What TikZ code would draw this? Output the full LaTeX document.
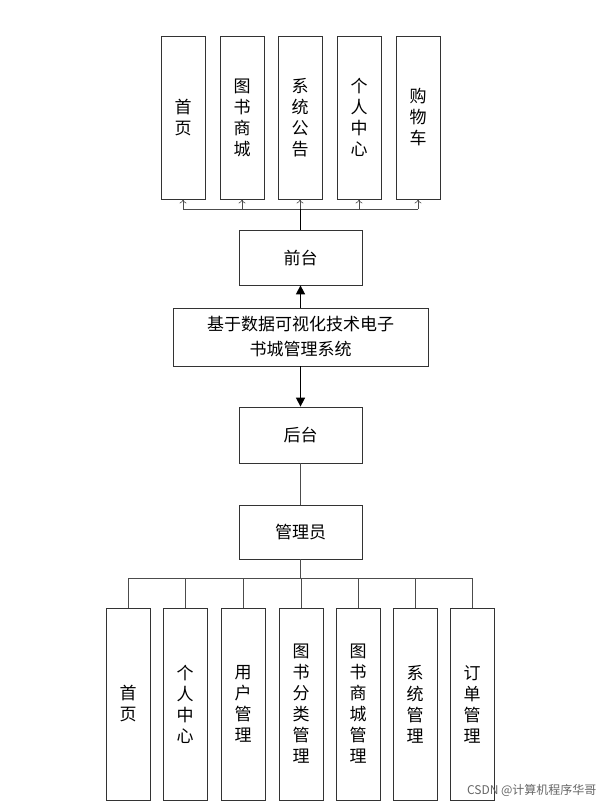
\documentclass[tikz,border=0pt]{standalone}
\usepackage{fontspec}
\setmainfont{Noto Sans CJK SC}
\usetikzlibrary{arrows.meta}
\begin{document}
\begin{tikzpicture}[x=1pt,y=-1pt,
  bx/.style={draw=black!80,line width=0.8pt,fill=white,font=\fontsize{17}{21}\selectfont,align=center,inner sep=0pt},
  thin/.style={draw=black!70,line width=0.6pt},
  tarr/.style={thin,-{To[length=4pt,width=7pt]}},
  barr/.style={draw=black,line width=1.6pt,-{Triangle[length=9pt,width=9pt]}}]
\useasboundingbox[fill=white] (0,0) rectangle (609,810);
% top boxes
\foreach \n/\x/\t in {t1/183/首\\页, t2/242/图\\书\\商\\城, t3/300/系\\统\\公\\告, t4/359/个\\人\\中\\心, t5/418/购\\物\\车}{
  \node[bx,minimum width=44pt,minimum height=163pt] (\n) at (\x,117.5) {\t};
}
\node[bx,minimum width=123pt,minimum height=55pt] (qt) at (300.5,257.5) {前台};
\node[bx,minimum width=255pt,minimum height=58pt,font=\fontsize{17}{25}\selectfont] (main) at (300.5,337) {基于数据可视化技术电子\\书城管理系统};
\node[bx,minimum width=123pt,minimum height=56pt] (ht) at (300.5,435) {后台};
\node[bx,minimum width=123pt,minimum height=54pt] (gly) at (300.5,532) {管理员};
\foreach \n/\x/\t in {b1/128/首\\页, b2/185/个\\人\\中\\心, b3/243/用\\户\\管\\理, b4/301/图\\书\\分\\类\\管\\理, b5/358/图\\书\\商\\城\\管\\理, b6/415/系\\统\\管\\理, b7/472/订\\单\\管\\理}{
  \node[bx,minimum width=44pt,minimum height=192pt] (\n) at (\x,704) {\t};
}
\coordinate (tb) at (300.5,209);
\coordinate (bb) at (300.5,578);
\draw[thin] (t1.south |- tb) -- (t5.south |- tb);
\foreach \n in {t1,t2,t3,t4,t5} \draw[tarr] (\n.south |- tb) -- (\n.south);
\draw[line width=1.4pt] (qt.north) -- (tb);
\draw[barr] (main.north) -- (qt.south);
\draw[barr] (main.south) -- (ht.north);
\draw[thin] (ht.south) -- (gly.north);
\draw[thin] (gly.south) -- (bb);
\draw[thin] (b1.north |- bb) -- (b7.north |- bb);
\foreach \n in {b1,b2,b3,b4,b5,b6,b7} \draw[thin] (\n.north |- bb) -- (\n.north);
\node[font=\fontsize{12}{14}\selectfont,text=black!60,anchor=east] (wm) at (600,790) {CSDN @计算机程序华哥};
\end{tikzpicture}
\end{document}
